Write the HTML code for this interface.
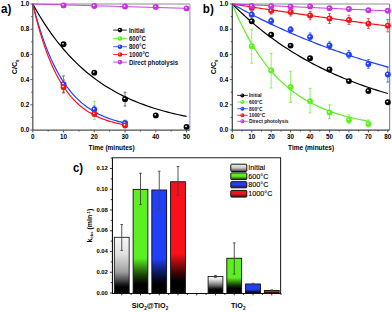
<!DOCTYPE html>
<html><head><meta charset="utf-8"><style>
html,body{margin:0;padding:0;background:#fff;width:392px;height:312px;overflow:hidden}
svg{display:block}
text{font-family:"Liberation Sans",sans-serif}
</style></head><body>
<svg width="392" height="312" viewBox="0 0 392 312" font-family="Liberation Sans, sans-serif">
<rect width="392" height="312" fill="#fff"/>
<path d="M32.8 4.0H189.9" stroke="#8c8c8c" stroke-width="1.2" fill="none"/><path d="M189.9 4.0V130.0" stroke="#a4a6c0" stroke-width="1.2" fill="none"/>
<path d="M30.4 130H32.8" stroke="#444" stroke-width="0.9"/>
<text x="29.3" y="132.2" font-size="6.3" font-weight="bold" text-anchor="end" fill="#000" >0.0</text>
<path d="M31.2 117.4H32.8" stroke="#444" stroke-width="0.9"/>
<path d="M30.4 104.8H32.8" stroke="#444" stroke-width="0.9"/>
<text x="29.3" y="107" font-size="6.3" font-weight="bold" text-anchor="end" fill="#000" >0.2</text>
<path d="M31.2 92.2H32.8" stroke="#444" stroke-width="0.9"/>
<path d="M30.4 79.6H32.8" stroke="#444" stroke-width="0.9"/>
<text x="29.3" y="81.8" font-size="6.3" font-weight="bold" text-anchor="end" fill="#000" >0.4</text>
<path d="M31.2 67H32.8" stroke="#444" stroke-width="0.9"/>
<path d="M30.4 54.4H32.8" stroke="#444" stroke-width="0.9"/>
<text x="29.3" y="56.6" font-size="6.3" font-weight="bold" text-anchor="end" fill="#000" >0.6</text>
<path d="M31.2 41.8H32.8" stroke="#444" stroke-width="0.9"/>
<path d="M30.4 29.2H32.8" stroke="#444" stroke-width="0.9"/>
<text x="29.3" y="31.4" font-size="6.3" font-weight="bold" text-anchor="end" fill="#000" >0.8</text>
<path d="M31.2 16.6H32.8" stroke="#444" stroke-width="0.9"/>
<path d="M30.4 4H32.8" stroke="#444" stroke-width="0.9"/>
<text x="29.3" y="6.2" font-size="6.3" font-weight="bold" text-anchor="end" fill="#000" >1.0</text>
<path d="M32.8 130.0V132.4" stroke="#444" stroke-width="0.9"/>
<text x="32.8" y="139.2" font-size="6.3" font-weight="bold" text-anchor="middle" fill="#000" >0</text>
<path d="M48.17 130.0V131.6" stroke="#444" stroke-width="0.9"/>
<path d="M63.55 130.0V132.4" stroke="#444" stroke-width="0.9"/>
<text x="63.55" y="139.2" font-size="6.3" font-weight="bold" text-anchor="middle" fill="#000" >10</text>
<path d="M78.92 130.0V131.6" stroke="#444" stroke-width="0.9"/>
<path d="M94.3 130.0V132.4" stroke="#444" stroke-width="0.9"/>
<text x="94.3" y="139.2" font-size="6.3" font-weight="bold" text-anchor="middle" fill="#000" >20</text>
<path d="M109.67 130.0V131.6" stroke="#444" stroke-width="0.9"/>
<path d="M125.05 130.0V132.4" stroke="#444" stroke-width="0.9"/>
<text x="125.05" y="139.2" font-size="6.3" font-weight="bold" text-anchor="middle" fill="#000" >30</text>
<path d="M140.43 130.0V131.6" stroke="#444" stroke-width="0.9"/>
<path d="M155.8 130.0V132.4" stroke="#444" stroke-width="0.9"/>
<text x="155.8" y="139.2" font-size="6.3" font-weight="bold" text-anchor="middle" fill="#000" >40</text>
<path d="M171.18 130.0V131.6" stroke="#444" stroke-width="0.9"/>
<path d="M186.55 130.0V132.4" stroke="#444" stroke-width="0.9"/>
<text x="186.55" y="139.2" font-size="6.3" font-weight="bold" text-anchor="middle" fill="#000" >50</text>
<text x="111.6" y="149.6" font-size="6.5" font-weight="bold" text-anchor="middle" fill="#000" >Time (minutes)</text>
<text transform="translate(17.0,74.2) rotate(-90)" font-size="7.1" font-weight="bold">C/C<tspan font-size="4.2" dy="1.8">0</tspan></text>
<text transform="translate(1.0,12.6) scale(0.9,1)" font-size="12.9" font-weight="bold">a)</text>
<polyline points="32.8,4 35.36,8.59 37.92,13.01 40.49,17.27 43.05,21.37 45.61,25.32 48.17,29.14 50.74,32.81 53.3,36.35 55.86,39.75 58.42,43.04 60.99,46.21 63.55,49.26 66.11,52.2 68.67,55.03 71.24,57.76 73.8,60.39 76.36,62.92 78.92,65.36 81.49,67.72 84.05,69.98 86.61,72.17 89.17,74.27 91.74,76.3 94.3,78.26 96.86,80.14 99.43,81.96 101.99,83.71 104.55,85.39 107.11,87.01 109.67,88.58 112.24,90.09 114.8,91.54 117.36,92.94 119.92,94.29 122.49,95.59 125.05,96.84 127.61,98.05 130.18,99.21 132.74,100.33 135.3,101.41 137.86,102.45 140.43,103.46 142.99,104.42 145.55,105.35 148.11,106.25 150.68,107.12 153.24,107.95 155.8,108.75 158.36,109.53 160.93,110.27 163.49,110.99 166.05,111.68 168.61,112.35 171.18,112.99 173.74,113.61 176.3,114.21 178.86,114.78 181.43,115.34 183.99,115.87 186.55,116.38" fill="none" stroke="#000" stroke-width="1.2"/>
<polyline points="32.8,4 34.34,9.94 35.88,15.59 37.41,20.98 38.95,26.12 40.49,31.01 42.02,35.67 43.56,40.11 45.1,44.35 46.64,48.38 48.17,52.23 49.71,55.89 51.25,59.38 52.79,62.71 54.33,65.88 55.86,68.9 57.4,71.78 58.94,74.52 60.47,77.13 62.01,79.62 63.55,82 65.09,84.26 66.62,86.41 68.16,88.47 69.7,90.42 71.24,92.29 72.78,94.06 74.31,95.76 75.85,97.37 77.39,98.91 78.92,100.37 80.46,101.77 82,103.1 83.54,104.36 85.08,105.57 86.61,106.72 88.15,107.82 89.69,108.86 91.22,109.86 92.76,110.81 94.3,111.71 95.84,112.57 97.38,113.39 98.91,114.18 100.45,114.92 101.99,115.63 103.53,116.31 105.06,116.95 106.6,117.57 108.14,118.15 109.67,118.71 111.21,119.24 112.75,119.75 114.29,120.23 115.83,120.69 117.36,121.13 118.9,121.55 120.44,121.95 121.98,122.33 123.51,122.69 125.05,123.03" fill="none" stroke="#2040f8" stroke-width="1.2"/>
<polyline points="32.8,4 34.34,10.56 35.88,16.79 37.41,22.68 38.95,28.27 40.49,33.57 42.02,38.6 43.56,43.36 45.1,47.87 46.64,52.15 48.17,56.21 49.71,60.05 51.25,63.69 52.79,67.15 54.33,70.42 55.86,73.53 57.4,76.47 58.94,79.26 60.47,81.9 62.01,84.41 63.55,86.78 65.09,89.03 66.62,91.17 68.16,93.19 69.7,95.11 71.24,96.92 72.78,98.65 74.31,100.28 75.85,101.83 77.39,103.3 78.92,104.69 80.46,106.01 82,107.26 83.54,108.44 85.08,109.56 86.61,110.63 88.15,111.64 89.69,112.59 91.22,113.5 92.76,114.36 94.3,115.18 95.84,115.95 97.38,116.68 98.91,117.37 100.45,118.03 101.99,118.65 103.53,119.25 105.06,119.81 106.6,120.34 108.14,120.84 109.67,121.32 111.21,121.77 112.75,122.2 114.29,122.61 115.83,122.99 117.36,123.36 118.9,123.7 120.44,124.03 121.98,124.34 123.51,124.64 125.05,124.92" fill="none" stroke="#fa1018" stroke-width="1.2"/>
<polyline points="32.8,4 35.36,4.07 37.92,4.15 40.49,4.22 43.05,4.29 45.61,4.37 48.17,4.44 50.74,4.51 53.3,4.59 55.86,4.66 58.42,4.73 60.99,4.81 63.55,4.88 66.11,4.95 68.67,5.02 71.24,5.1 73.8,5.17 76.36,5.24 78.92,5.32 81.49,5.39 84.05,5.46 86.61,5.53 89.17,5.61 91.74,5.68 94.3,5.75 96.86,5.82 99.43,5.9 101.99,5.97 104.55,6.04 107.11,6.11 109.67,6.19 112.24,6.26 114.8,6.33 117.36,6.4 119.92,6.47 122.49,6.55 125.05,6.62 127.61,6.69 130.18,6.76 132.74,6.83 135.3,6.91 137.86,6.98 140.43,7.05 142.99,7.12 145.55,7.19 148.11,7.26 150.68,7.34 153.24,7.41 155.8,7.48 158.36,7.55 160.93,7.62 163.49,7.69 166.05,7.76 168.61,7.84 171.18,7.91 173.74,7.98 176.3,8.05 178.86,8.12 181.43,8.19 183.99,8.26 186.55,8.33" fill="none" stroke="#c830e0" stroke-width="0.95"/>
<path d="M125.05 92.2V106.06M123.65 92.2H126.45M123.65 106.06H126.45" stroke="#333" stroke-width="0.7" fill="none"/>
<path d="M63.55 75.82V92.2M62.15 75.82H64.95M62.15 92.2H64.95" stroke="#2040f8" stroke-width="0.7" fill="none"/>
<path d="M63.55 79.6V92.2M62.15 79.6H64.95M62.15 92.2H64.95" stroke="#5cf020" stroke-width="0.7" fill="none"/>
<path d="M63.55 80.23V93.08M62.15 80.23H64.95M62.15 93.08H64.95" stroke="#fa1018" stroke-width="0.7" fill="none"/>
<path d="M94.3 101.27V119.54M92.9 101.27H95.7M92.9 119.54H95.7" stroke="#5cf020" stroke-width="0.7" fill="none"/>
<path d="M94.3 106.06V113.62M92.9 106.06H95.7M92.9 113.62H95.7" stroke="#2040f8" stroke-width="0.7" fill="none"/>
<path d="M125.05 119.92V126.22M123.65 119.92H126.45M123.65 126.22H126.45" stroke="#5cf020" stroke-width="0.7" fill="none"/>
<circle cx="63.55" cy="44.32" r="2.95" fill="#000"/>
<ellipse cx="63" cy="43.72" rx="0.94" ry="0.80" fill="#f0f4f4"/>
<circle cx="94.3" cy="72.67" r="2.95" fill="#000"/>
<ellipse cx="93.75" cy="72.07" rx="0.94" ry="0.80" fill="#f0f4f4"/>
<circle cx="125.05" cy="99.13" r="2.95" fill="#000"/>
<ellipse cx="124.5" cy="98.53" rx="0.94" ry="0.80" fill="#f0f4f4"/>
<circle cx="155.8" cy="115.38" r="2.95" fill="#000"/>
<ellipse cx="155.25" cy="114.78" rx="0.94" ry="0.80" fill="#f0f4f4"/>
<circle cx="186.55" cy="126.98" r="2.95" fill="#000"/>
<ellipse cx="186" cy="126.38" rx="0.94" ry="0.80" fill="#f0f4f4"/>
<circle cx="63.55" cy="84.26" r="2.95" fill="#2040f8"/>
<ellipse cx="63" cy="83.66" rx="0.94" ry="0.80" fill="#f0f4f4"/>
<circle cx="94.3" cy="109.46" r="2.95" fill="#2040f8"/>
<ellipse cx="93.75" cy="108.86" rx="0.94" ry="0.80" fill="#f0f4f4"/>
<circle cx="125.05" cy="123.07" r="2.95" fill="#2040f8"/>
<ellipse cx="124.5" cy="122.47" rx="0.94" ry="0.80" fill="#f0f4f4"/>
<circle cx="63.55" cy="87.16" r="2.95" fill="#fa1018"/>
<ellipse cx="63" cy="86.56" rx="0.94" ry="0.80" fill="#f0f4f4"/>
<circle cx="94.3" cy="114" r="2.95" fill="#fa1018"/>
<ellipse cx="93.75" cy="113.4" rx="0.94" ry="0.80" fill="#f0f4f4"/>
<circle cx="125.05" cy="125.46" r="2.95" fill="#fa1018"/>
<ellipse cx="124.5" cy="124.86" rx="0.94" ry="0.80" fill="#f0f4f4"/>
<circle cx="63.55" cy="5.39" r="2.95" fill="#c830e0"/>
<ellipse cx="63" cy="4.79" rx="0.94" ry="0.80" fill="#f0f4f4"/>
<circle cx="94.3" cy="6.02" r="2.95" fill="#c830e0"/>
<ellipse cx="93.75" cy="5.42" rx="0.94" ry="0.80" fill="#f0f4f4"/>
<circle cx="125.05" cy="6.52" r="2.95" fill="#c830e0"/>
<ellipse cx="124.5" cy="5.92" rx="0.94" ry="0.80" fill="#f0f4f4"/>
<circle cx="155.8" cy="6.9" r="2.95" fill="#c830e0"/>
<ellipse cx="155.25" cy="6.3" rx="0.94" ry="0.80" fill="#f0f4f4"/>
<circle cx="186.55" cy="8.41" r="2.95" fill="#c830e0"/>
<ellipse cx="186" cy="7.81" rx="0.94" ry="0.80" fill="#f0f4f4"/>
<path d="M32.8 3.5V130.0H189.9" stroke="#505454" stroke-width="1.25" fill="none"/>
<path d="M113.2 30.1H126.9" stroke="#000" stroke-width="0.85"/>
<circle cx="120" cy="30.1" r="2.3" fill="#000"/>
<ellipse cx="119.45" cy="29.5" rx="0.74" ry="0.62" fill="#f0f4f4"/>
<text transform="translate(128.9,32.5) scale(0.92,1)" font-size="6.6" font-weight="bold" fill="#10102a">Initial</text>
<path d="M113.2 38.5H126.9" stroke="#5cf020" stroke-width="0.85"/>
<circle cx="120" cy="38.5" r="2.3" fill="#5cf020"/>
<ellipse cx="119.45" cy="37.9" rx="0.74" ry="0.62" fill="#f0f4f4"/>
<text transform="translate(128.9,40.9) scale(0.92,1)" font-size="6.6" font-weight="bold" fill="#10102a">600°C</text>
<path d="M113.2 46.7H126.9" stroke="#2040f8" stroke-width="0.85"/>
<circle cx="120" cy="46.7" r="2.3" fill="#2040f8"/>
<ellipse cx="119.45" cy="46.1" rx="0.74" ry="0.62" fill="#f0f4f4"/>
<text transform="translate(128.9,49.1) scale(0.92,1)" font-size="6.6" font-weight="bold" fill="#10102a">800°C</text>
<path d="M113.2 54.5H126.9" stroke="#fa1018" stroke-width="0.85"/>
<circle cx="120" cy="54.5" r="2.3" fill="#fa1018"/>
<ellipse cx="119.45" cy="53.9" rx="0.74" ry="0.62" fill="#f0f4f4"/>
<text transform="translate(128.9,56.9) scale(0.92,1)" font-size="6.6" font-weight="bold" fill="#10102a">1000°C</text>
<path d="M113.2 62.1H126.9" stroke="#c830e0" stroke-width="0.85"/>
<circle cx="120" cy="62.1" r="2.3" fill="#c830e0"/>
<ellipse cx="119.45" cy="61.5" rx="0.74" ry="0.62" fill="#f0f4f4"/>
<text transform="translate(128.9,64.5) scale(0.92,1)" font-size="6.6" font-weight="bold" fill="#10102a">Direct photolysis</text>
<path d="M232.3 4.0H389.6" stroke="#8c8c8c" stroke-width="1.2" fill="none"/><path d="M389.6 4.0V130.0" stroke="#8a8c9c" stroke-width="1.2" fill="none"/>
<path d="M229.9 130H232.3" stroke="#444" stroke-width="0.9"/>
<text x="228.2" y="132.1" font-size="6.3" font-weight="bold" text-anchor="end" fill="#000" >0.0</text>
<path d="M230.7 117.4H232.3" stroke="#444" stroke-width="0.9"/>
<path d="M229.9 104.8H232.3" stroke="#444" stroke-width="0.9"/>
<text x="228.2" y="106.9" font-size="6.3" font-weight="bold" text-anchor="end" fill="#000" >0.2</text>
<path d="M230.7 92.2H232.3" stroke="#444" stroke-width="0.9"/>
<path d="M229.9 79.6H232.3" stroke="#444" stroke-width="0.9"/>
<text x="228.2" y="81.7" font-size="6.3" font-weight="bold" text-anchor="end" fill="#000" >0.4</text>
<path d="M230.7 67H232.3" stroke="#444" stroke-width="0.9"/>
<path d="M229.9 54.4H232.3" stroke="#444" stroke-width="0.9"/>
<text x="228.2" y="56.5" font-size="6.3" font-weight="bold" text-anchor="end" fill="#000" >0.6</text>
<path d="M230.7 41.8H232.3" stroke="#444" stroke-width="0.9"/>
<path d="M229.9 29.2H232.3" stroke="#444" stroke-width="0.9"/>
<text x="228.2" y="31.3" font-size="6.3" font-weight="bold" text-anchor="end" fill="#000" >0.8</text>
<path d="M230.7 16.6H232.3" stroke="#444" stroke-width="0.9"/>
<path d="M229.9 4H232.3" stroke="#444" stroke-width="0.9"/>
<text x="228.2" y="6.1" font-size="6.3" font-weight="bold" text-anchor="end" fill="#000" >1.0</text>
<path d="M232.3 130.0V132.4" stroke="#444" stroke-width="0.9"/>
<text x="232.3" y="139.2" font-size="6.3" font-weight="bold" text-anchor="middle" fill="#000" >0</text>
<path d="M242.02 130.0V131.6" stroke="#444" stroke-width="0.9"/>
<path d="M251.74 130.0V132.4" stroke="#444" stroke-width="0.9"/>
<text x="251.74" y="139.2" font-size="6.3" font-weight="bold" text-anchor="middle" fill="#000" >10</text>
<path d="M261.46 130.0V131.6" stroke="#444" stroke-width="0.9"/>
<path d="M271.18 130.0V132.4" stroke="#444" stroke-width="0.9"/>
<text x="271.18" y="139.2" font-size="6.3" font-weight="bold" text-anchor="middle" fill="#000" >20</text>
<path d="M280.9 130.0V131.6" stroke="#444" stroke-width="0.9"/>
<path d="M290.62 130.0V132.4" stroke="#444" stroke-width="0.9"/>
<text x="290.62" y="139.2" font-size="6.3" font-weight="bold" text-anchor="middle" fill="#000" >30</text>
<path d="M300.34 130.0V131.6" stroke="#444" stroke-width="0.9"/>
<path d="M310.06 130.0V132.4" stroke="#444" stroke-width="0.9"/>
<text x="310.06" y="139.2" font-size="6.3" font-weight="bold" text-anchor="middle" fill="#000" >40</text>
<path d="M319.78 130.0V131.6" stroke="#444" stroke-width="0.9"/>
<path d="M329.5 130.0V132.4" stroke="#444" stroke-width="0.9"/>
<text x="329.5" y="139.2" font-size="6.3" font-weight="bold" text-anchor="middle" fill="#000" >50</text>
<path d="M339.22 130.0V131.6" stroke="#444" stroke-width="0.9"/>
<path d="M348.94 130.0V132.4" stroke="#444" stroke-width="0.9"/>
<text x="348.94" y="139.2" font-size="6.3" font-weight="bold" text-anchor="middle" fill="#000" >60</text>
<path d="M358.66 130.0V131.6" stroke="#444" stroke-width="0.9"/>
<path d="M368.38 130.0V132.4" stroke="#444" stroke-width="0.9"/>
<text x="368.38" y="139.2" font-size="6.3" font-weight="bold" text-anchor="middle" fill="#000" >70</text>
<path d="M378.1 130.0V131.6" stroke="#444" stroke-width="0.9"/>
<path d="M387.82 130.0V132.4" stroke="#444" stroke-width="0.9"/>
<text x="387.82" y="139.2" font-size="6.3" font-weight="bold" text-anchor="middle" fill="#000" >80</text>
<text x="311.1" y="149.6" font-size="6.5" font-weight="bold" text-anchor="middle" fill="#000" >Time (minutes)</text>
<text transform="translate(216.3,74.2) rotate(-90)" font-size="7.1" font-weight="bold">C/C<tspan font-size="4.2" dy="1.8">0</tspan></text>
<text transform="translate(202.8,12.6) scale(0.9,1)" font-size="12.9" font-weight="bold">b)</text>
<polyline points="232.3,4 234.89,6.58 237.48,9.1 240.08,11.57 242.67,14 245.26,16.37 247.85,18.69 250.44,20.97 253.04,23.2 255.63,25.39 258.22,27.53 260.81,29.62 263.4,31.67 266,33.69 268.59,35.66 271.18,37.59 273.77,39.48 276.36,41.33 278.96,43.14 281.55,44.92 284.14,46.66 286.73,48.36 289.32,50.03 291.92,51.67 294.51,53.27 297.1,54.84 299.69,56.38 302.28,57.88 304.88,59.36 307.47,60.8 310.06,62.22 312.65,63.61 315.24,64.96 317.84,66.29 320.43,67.6 323.02,68.87 325.61,70.12 328.2,71.35 330.8,72.55 333.39,73.72 335.98,74.87 338.57,76 341.16,77.11 343.76,78.19 346.35,79.25 348.94,80.29 351.53,81.3 354.12,82.3 356.72,83.27 359.31,84.23 361.9,85.17 364.49,86.08 367.08,86.98 369.68,87.86 372.27,88.72 374.86,89.57 377.45,90.4 380.04,91.21 382.64,92 385.23,92.78 387.82,93.54" fill="none" stroke="#000" stroke-width="1.2"/>
<polyline points="232.3,4 234.57,9.46 236.84,14.69 239.1,19.69 241.37,24.47 243.64,29.05 245.91,33.43 248.18,37.62 250.44,41.62 252.71,45.46 254.98,49.12 257.25,52.63 259.52,55.98 261.78,59.19 264.05,62.26 266.32,65.2 268.59,68.01 270.86,70.7 273.12,73.27 275.39,75.73 277.66,78.08 279.93,80.34 282.2,82.49 284.46,84.55 286.73,86.52 289,88.41 291.27,90.21 293.54,91.94 295.8,93.59 298.07,95.17 300.34,96.68 302.61,98.12 304.88,99.5 307.14,100.83 309.41,102.09 311.68,103.3 313.95,104.46 316.22,105.57 318.48,106.63 320.75,107.64 323.02,108.61 325.29,109.54 327.56,110.42 329.82,111.27 332.09,112.09 334.36,112.86 336.63,113.61 338.9,114.32 341.16,115 343.43,115.65 345.7,116.27 347.97,116.86 350.24,117.43 352.5,117.98 354.77,118.5 357.04,119 359.31,119.48 361.58,119.93 363.84,120.37 366.11,120.79 368.38,121.19" fill="none" stroke="#5cf020" stroke-width="1.2"/>
<polyline points="232.3,4 234.89,5.45 237.48,6.89 240.08,8.31 242.67,9.71 245.26,11.1 247.85,12.47 250.44,13.83 253.04,15.17 255.63,16.49 258.22,17.8 260.81,19.09 263.4,20.37 266,21.64 268.59,22.89 271.18,24.12 273.77,25.34 276.36,26.55 278.96,27.74 281.55,28.92 284.14,30.09 286.73,31.24 289.32,32.38 291.92,33.51 294.51,34.62 297.1,35.72 299.69,36.81 302.28,37.88 304.88,38.94 307.47,39.99 310.06,41.03 312.65,42.06 315.24,43.07 317.84,44.07 320.43,45.07 323.02,46.04 325.61,47.01 328.2,47.97 330.8,48.92 333.39,49.85 335.98,50.78 338.57,51.69 341.16,52.59 343.76,53.49 346.35,54.37 348.94,55.24 351.53,56.1 354.12,56.95 356.72,57.8 359.31,58.63 361.9,59.45 364.49,60.27 367.08,61.07 369.68,61.87 372.27,62.65 374.86,63.43 377.45,64.2 380.04,64.95 382.64,65.7 385.23,66.45 387.82,67.18" fill="none" stroke="#2040f8" stroke-width="1.2"/>
<polyline points="232.3,4 234.89,4.4 237.48,4.8 240.08,5.2 242.67,5.6 245.26,6 247.85,6.4 250.44,6.79 253.04,7.18 255.63,7.58 258.22,7.97 260.81,8.36 263.4,8.75 266,9.13 268.59,9.52 271.18,9.91 273.77,10.29 276.36,10.67 278.96,11.05 281.55,11.43 284.14,11.81 286.73,12.19 289.32,12.57 291.92,12.94 294.51,13.31 297.1,13.69 299.69,14.06 302.28,14.43 304.88,14.8 307.47,15.17 310.06,15.53 312.65,15.9 315.24,16.26 317.84,16.63 320.43,16.99 323.02,17.35 325.61,17.71 328.2,18.07 330.8,18.43 333.39,18.78 335.98,19.14 338.57,19.49 341.16,19.85 343.76,20.2 346.35,20.55 348.94,20.9 351.53,21.25 354.12,21.59 356.72,21.94 359.31,22.29 361.9,22.63 364.49,22.97 367.08,23.31 369.68,23.66 372.27,24 374.86,24.33 377.45,24.67 380.04,25.01 382.64,25.34 385.23,25.68 387.82,26.01" fill="none" stroke="#fa1018" stroke-width="1.2"/>
<polyline points="232.3,4 234.89,4.12 237.48,4.23 240.08,4.35 242.67,4.47 245.26,4.59 247.85,4.7 250.44,4.82 253.04,4.94 255.63,5.05 258.22,5.17 260.81,5.29 263.4,5.4 266,5.52 268.59,5.64 271.18,5.75 273.77,5.87 276.36,5.98 278.96,6.1 281.55,6.21 284.14,6.33 286.73,6.45 289.32,6.56 291.92,6.68 294.51,6.79 297.1,6.91 299.69,7.02 302.28,7.14 304.88,7.25 307.47,7.36 310.06,7.48 312.65,7.59 315.24,7.71 317.84,7.82 320.43,7.94 323.02,8.05 325.61,8.16 328.2,8.28 330.8,8.39 333.39,8.5 335.98,8.62 338.57,8.73 341.16,8.84 343.76,8.96 346.35,9.07 348.94,9.18 351.53,9.3 354.12,9.41 356.72,9.52 359.31,9.63 361.9,9.74 364.49,9.86 367.08,9.97 369.68,10.08 372.27,10.19 374.86,10.3 377.45,10.42 380.04,10.53 382.64,10.64 385.23,10.75 387.82,10.86" fill="none" stroke="#c830e0" stroke-width="1.0"/>
<path d="M251.74 29.2V63.22M250.34 29.2H253.14M250.34 63.22H253.14" stroke="#5cf020" stroke-width="0.7" fill="none"/>
<path d="M271.18 53.27V88.04M269.78 53.27H272.58M269.78 88.04H272.58" stroke="#5cf020" stroke-width="0.7" fill="none"/>
<path d="M290.62 71.28V102.53M289.22 71.28H292.02M289.22 102.53H292.02" stroke="#5cf020" stroke-width="0.7" fill="none"/>
<path d="M310.06 88.29V112.99M308.66 88.29H311.46M308.66 112.99H311.46" stroke="#5cf020" stroke-width="0.7" fill="none"/>
<path d="M329.5 104.8V118.66M328.1 104.8H330.9M328.1 118.66H330.9" stroke="#5cf020" stroke-width="0.7" fill="none"/>
<path d="M348.94 114.88V123.7M347.54 114.88H350.34M347.54 123.7H350.34" stroke="#5cf020" stroke-width="0.7" fill="none"/>
<path d="M368.38 119.92V126.85M366.98 119.92H369.78M366.98 126.85H369.78" stroke="#5cf020" stroke-width="0.7" fill="none"/>
<path d="M251.74 11.56V16.6M250.34 11.56H253.14M250.34 16.6H253.14" stroke="#2040f8" stroke-width="0.7" fill="none"/>
<path d="M271.18 17.86V24.16M269.78 17.86H272.58M269.78 24.16H272.58" stroke="#2040f8" stroke-width="0.7" fill="none"/>
<path d="M290.62 26.68V32.98M289.22 26.68H292.02M289.22 32.98H292.02" stroke="#2040f8" stroke-width="0.7" fill="none"/>
<path d="M310.06 32.98V40.54M308.66 32.98H311.46M308.66 40.54H311.46" stroke="#2040f8" stroke-width="0.7" fill="none"/>
<path d="M329.5 41.8V49.36M328.1 41.8H330.9M328.1 49.36H330.9" stroke="#2040f8" stroke-width="0.7" fill="none"/>
<path d="M348.94 50.62V58.18M347.54 50.62H350.34M347.54 58.18H350.34" stroke="#2040f8" stroke-width="0.7" fill="none"/>
<path d="M368.38 59.44V68.26M366.98 59.44H369.78M366.98 68.26H369.78" stroke="#2040f8" stroke-width="0.7" fill="none"/>
<path d="M387.82 67V82.12M386.42 67H389.22M386.42 82.12H389.22" stroke="#2040f8" stroke-width="0.7" fill="none"/>
<path d="M251.74 5.26V9.67M250.34 5.26H253.14M250.34 9.67H253.14" stroke="#fa1018" stroke-width="0.7" fill="none"/>
<path d="M271.18 7.15V14.08M269.78 7.15H272.58M269.78 14.08H272.58" stroke="#fa1018" stroke-width="0.7" fill="none"/>
<path d="M290.62 8.41V15.97M289.22 8.41H292.02M289.22 15.97H292.02" stroke="#fa1018" stroke-width="0.7" fill="none"/>
<path d="M310.06 11.56V19.75M308.66 11.56H311.46M308.66 19.75H311.46" stroke="#fa1018" stroke-width="0.7" fill="none"/>
<path d="M329.5 13.45V23.53M328.1 13.45H330.9M328.1 23.53H330.9" stroke="#fa1018" stroke-width="0.7" fill="none"/>
<path d="M348.94 15.21V24.54M347.54 15.21H350.34M347.54 24.54H350.34" stroke="#fa1018" stroke-width="0.7" fill="none"/>
<path d="M368.38 18.62V28.44M366.98 18.62H369.78M366.98 28.44H369.78" stroke="#fa1018" stroke-width="0.7" fill="none"/>
<path d="M387.82 19.62V31.85M386.42 19.62H389.22M386.42 31.85H389.22" stroke="#fa1018" stroke-width="0.7" fill="none"/>
<circle cx="251.74" cy="21.26" r="2.95" fill="#000"/>
<ellipse cx="251.19" cy="20.66" rx="0.94" ry="0.80" fill="#f0f4f4"/>
<circle cx="271.18" cy="34.74" r="2.95" fill="#000"/>
<ellipse cx="270.63" cy="34.14" rx="0.94" ry="0.80" fill="#f0f4f4"/>
<circle cx="290.62" cy="45.58" r="2.95" fill="#000"/>
<ellipse cx="290.07" cy="44.98" rx="0.94" ry="0.80" fill="#f0f4f4"/>
<circle cx="310.06" cy="58.31" r="2.95" fill="#000"/>
<ellipse cx="309.51" cy="57.71" rx="0.94" ry="0.80" fill="#f0f4f4"/>
<circle cx="329.5" cy="69.52" r="2.95" fill="#000"/>
<ellipse cx="328.95" cy="68.92" rx="0.94" ry="0.80" fill="#f0f4f4"/>
<circle cx="348.94" cy="81.11" r="2.95" fill="#000"/>
<ellipse cx="348.39" cy="80.51" rx="0.94" ry="0.80" fill="#f0f4f4"/>
<circle cx="368.38" cy="90.94" r="2.95" fill="#000"/>
<ellipse cx="367.83" cy="90.34" rx="0.94" ry="0.80" fill="#f0f4f4"/>
<circle cx="387.82" cy="102.28" r="2.95" fill="#000"/>
<ellipse cx="387.27" cy="101.68" rx="0.94" ry="0.80" fill="#f0f4f4"/>
<circle cx="251.74" cy="46.21" r="2.95" fill="#5cf020"/>
<ellipse cx="251.19" cy="45.61" rx="0.94" ry="0.80" fill="#f0f4f4"/>
<circle cx="271.18" cy="70.53" r="2.95" fill="#5cf020"/>
<ellipse cx="270.63" cy="69.93" rx="0.94" ry="0.80" fill="#f0f4f4"/>
<circle cx="290.62" cy="87.03" r="2.95" fill="#5cf020"/>
<ellipse cx="290.07" cy="86.43" rx="0.94" ry="0.80" fill="#f0f4f4"/>
<circle cx="310.06" cy="101.27" r="2.95" fill="#5cf020"/>
<ellipse cx="309.51" cy="100.67" rx="0.94" ry="0.80" fill="#f0f4f4"/>
<circle cx="329.5" cy="112.49" r="2.95" fill="#5cf020"/>
<ellipse cx="328.95" cy="111.89" rx="0.94" ry="0.80" fill="#f0f4f4"/>
<circle cx="348.94" cy="120.05" r="2.95" fill="#5cf020"/>
<ellipse cx="348.39" cy="119.45" rx="0.94" ry="0.80" fill="#f0f4f4"/>
<circle cx="368.38" cy="123.95" r="2.95" fill="#5cf020"/>
<ellipse cx="367.83" cy="123.35" rx="0.94" ry="0.80" fill="#f0f4f4"/>
<circle cx="251.74" cy="14.71" r="2.95" fill="#2040f8"/>
<ellipse cx="251.19" cy="14.11" rx="0.94" ry="0.80" fill="#f0f4f4"/>
<circle cx="271.18" cy="21.01" r="2.95" fill="#2040f8"/>
<ellipse cx="270.63" cy="20.41" rx="0.94" ry="0.80" fill="#f0f4f4"/>
<circle cx="290.62" cy="29.58" r="2.95" fill="#2040f8"/>
<ellipse cx="290.07" cy="28.98" rx="0.94" ry="0.80" fill="#f0f4f4"/>
<circle cx="310.06" cy="37.01" r="2.95" fill="#2040f8"/>
<ellipse cx="309.51" cy="36.41" rx="0.94" ry="0.80" fill="#f0f4f4"/>
<circle cx="329.5" cy="45.45" r="2.95" fill="#2040f8"/>
<ellipse cx="328.95" cy="44.85" rx="0.94" ry="0.80" fill="#f0f4f4"/>
<circle cx="348.94" cy="54.65" r="2.95" fill="#2040f8"/>
<ellipse cx="348.39" cy="54.05" rx="0.94" ry="0.80" fill="#f0f4f4"/>
<circle cx="368.38" cy="64.1" r="2.95" fill="#2040f8"/>
<ellipse cx="367.83" cy="63.5" rx="0.94" ry="0.80" fill="#f0f4f4"/>
<circle cx="387.82" cy="74.43" r="2.95" fill="#2040f8"/>
<ellipse cx="387.27" cy="73.83" rx="0.94" ry="0.80" fill="#f0f4f4"/>
<circle cx="251.74" cy="7.91" r="2.95" fill="#fa1018"/>
<ellipse cx="251.19" cy="7.31" rx="0.94" ry="0.80" fill="#f0f4f4"/>
<circle cx="271.18" cy="10.8" r="2.95" fill="#fa1018"/>
<ellipse cx="270.63" cy="10.2" rx="0.94" ry="0.80" fill="#f0f4f4"/>
<circle cx="290.62" cy="11.94" r="2.95" fill="#fa1018"/>
<ellipse cx="290.07" cy="11.34" rx="0.94" ry="0.80" fill="#f0f4f4"/>
<circle cx="310.06" cy="15.47" r="2.95" fill="#fa1018"/>
<ellipse cx="309.51" cy="14.87" rx="0.94" ry="0.80" fill="#f0f4f4"/>
<circle cx="329.5" cy="18.49" r="2.95" fill="#fa1018"/>
<ellipse cx="328.95" cy="17.89" rx="0.94" ry="0.80" fill="#f0f4f4"/>
<circle cx="348.94" cy="20" r="2.95" fill="#fa1018"/>
<ellipse cx="348.39" cy="19.4" rx="0.94" ry="0.80" fill="#f0f4f4"/>
<circle cx="368.38" cy="23.66" r="2.95" fill="#fa1018"/>
<ellipse cx="367.83" cy="23.06" rx="0.94" ry="0.80" fill="#f0f4f4"/>
<circle cx="387.82" cy="25.67" r="2.95" fill="#fa1018"/>
<ellipse cx="387.27" cy="25.07" rx="0.94" ry="0.80" fill="#f0f4f4"/>
<circle cx="251.74" cy="6.02" r="2.95" fill="#c830e0"/>
<ellipse cx="251.19" cy="5.42" rx="0.94" ry="0.80" fill="#f0f4f4"/>
<circle cx="271.18" cy="6.14" r="2.95" fill="#c830e0"/>
<ellipse cx="270.63" cy="5.54" rx="0.94" ry="0.80" fill="#f0f4f4"/>
<circle cx="290.62" cy="6.65" r="2.95" fill="#c830e0"/>
<ellipse cx="290.07" cy="6.05" rx="0.94" ry="0.80" fill="#f0f4f4"/>
<circle cx="310.06" cy="6.39" r="2.95" fill="#c830e0"/>
<ellipse cx="309.51" cy="5.79" rx="0.94" ry="0.80" fill="#f0f4f4"/>
<circle cx="329.5" cy="8.16" r="2.95" fill="#c830e0"/>
<ellipse cx="328.95" cy="7.56" rx="0.94" ry="0.80" fill="#f0f4f4"/>
<circle cx="348.94" cy="9.04" r="2.95" fill="#c830e0"/>
<ellipse cx="348.39" cy="8.44" rx="0.94" ry="0.80" fill="#f0f4f4"/>
<circle cx="368.38" cy="10.3" r="2.95" fill="#c830e0"/>
<ellipse cx="367.83" cy="9.7" rx="0.94" ry="0.80" fill="#f0f4f4"/>
<circle cx="387.82" cy="10.8" r="2.95" fill="#c830e0"/>
<ellipse cx="387.27" cy="10.2" rx="0.94" ry="0.80" fill="#f0f4f4"/>
<path d="M232.3 3.5V130.0H389.6" stroke="#404444" stroke-width="1.25" fill="none"/><path d="M241.3 130.4H250.4" stroke="#5070d0" stroke-width="0.8" stroke-dasharray="1.5 0.7"/>
<path d="M237.2 95.4H247.8" stroke="#000" stroke-width="0.8"/>
<circle cx="242.4" cy="95.4" r="2.0" fill="#000"/>
<ellipse cx="241.85" cy="94.8" rx="0.64" ry="0.54" fill="#f0f4f4"/>
<text transform="translate(249.0,97.3) scale(0.92,1)" font-size="5.3" font-weight="bold" fill="#10102a">Initial</text>
<path d="M237.2 102.0H247.8" stroke="#5cf020" stroke-width="0.8"/>
<circle cx="242.4" cy="102" r="2.0" fill="#5cf020"/>
<ellipse cx="241.85" cy="101.4" rx="0.64" ry="0.54" fill="#f0f4f4"/>
<text transform="translate(249.0,103.9) scale(0.92,1)" font-size="5.3" font-weight="bold" fill="#10102a">600°C</text>
<path d="M237.2 108.7H247.8" stroke="#2040f8" stroke-width="0.8"/>
<circle cx="242.4" cy="108.7" r="2.0" fill="#2040f8"/>
<ellipse cx="241.85" cy="108.1" rx="0.64" ry="0.54" fill="#f0f4f4"/>
<text transform="translate(249.0,110.6) scale(0.92,1)" font-size="5.3" font-weight="bold" fill="#10102a">800°C</text>
<path d="M237.2 115.3H247.8" stroke="#fa1018" stroke-width="0.8"/>
<circle cx="242.4" cy="115.3" r="2.0" fill="#fa1018"/>
<ellipse cx="241.85" cy="114.7" rx="0.64" ry="0.54" fill="#f0f4f4"/>
<text transform="translate(249.0,117.2) scale(0.92,1)" font-size="5.3" font-weight="bold" fill="#10102a">1000°C</text>
<path d="M237.2 121.3H247.8" stroke="#c830e0" stroke-width="0.8"/>
<circle cx="242.4" cy="121.3" r="2.0" fill="#c830e0"/>
<ellipse cx="241.85" cy="120.7" rx="0.64" ry="0.54" fill="#f0f4f4"/>
<text transform="translate(249.0,123.2) scale(0.92,1)" font-size="5.3" font-weight="bold" fill="#10102a">Direct photolysis</text>
<defs>
<linearGradient id="grw" x1="0" y1="0" x2="0" y2="1"><stop offset="0" stop-color="#f6f6f6"/><stop offset="0.42" stop-color="#d0d0d0"/><stop offset="0.59" stop-color="#a0a0a0"/><stop offset="0.69" stop-color="#606468"/><stop offset="0.79" stop-color="#202020"/><stop offset="0.86" stop-color="#000"/><stop offset="1" stop-color="#000"/></linearGradient>
<linearGradient id="lgw" x1="0" y1="0" x2="0" y2="1"><stop offset="0" stop-color="#f0f0f0"/><stop offset="0.5" stop-color="#c8c8c8"/><stop offset="1" stop-color="#404040"/></linearGradient>
<linearGradient id="grg" x1="0" y1="0" x2="0" y2="1"><stop offset="0" stop-color="#5cf020"/><stop offset="0.67" stop-color="#5cf020"/><stop offset="0.77" stop-color="#5cf020" stop-opacity="0.55"/><stop offset="0.85" stop-color="#5cf020" stop-opacity="0.22"/><stop offset="0.92" stop-color="#5cf020" stop-opacity="0"/></linearGradient>
<linearGradient id="lgg" x1="0" y1="0" x2="0" y2="1"><stop offset="0" stop-color="#5cf020"/><stop offset="0.5" stop-color="#5cf020"/><stop offset="1" stop-color="#202020"/></linearGradient>
<linearGradient id="grbl" x1="0" y1="0" x2="0" y2="1"><stop offset="0" stop-color="#2040f8"/><stop offset="0.62" stop-color="#2040f8"/><stop offset="0.74" stop-color="#2040f8" stop-opacity="0.55"/><stop offset="0.84" stop-color="#2040f8" stop-opacity="0.22"/><stop offset="0.91" stop-color="#2040f8" stop-opacity="0"/></linearGradient>
<linearGradient id="lgbl" x1="0" y1="0" x2="0" y2="1"><stop offset="0" stop-color="#2040f8"/><stop offset="0.5" stop-color="#2040f8"/><stop offset="1" stop-color="#202020"/></linearGradient>
<linearGradient id="grr" x1="0" y1="0" x2="0" y2="1"><stop offset="0" stop-color="#fa1018"/><stop offset="0.58" stop-color="#fa1018"/><stop offset="0.72" stop-color="#fa1018" stop-opacity="0.55"/><stop offset="0.83" stop-color="#fa1018" stop-opacity="0.22"/><stop offset="0.9" stop-color="#fa1018" stop-opacity="0"/></linearGradient>
<linearGradient id="lgr" x1="0" y1="0" x2="0" y2="1"><stop offset="0" stop-color="#fa1018"/><stop offset="0.5" stop-color="#fa1018"/><stop offset="1" stop-color="#202020"/></linearGradient>
</defs>
<path d="M112.45 157.8H280.6V293.35" stroke="#222" stroke-width="1.05" fill="none"/>
<path d="M131.12 293.2V295" stroke="#222" stroke-width="0.9"/>
<path d="M149.88 293.2V295" stroke="#222" stroke-width="0.9"/>
<path d="M168.62 293.2V295" stroke="#222" stroke-width="0.9"/>
<path d="M187.38 293.2V295" stroke="#222" stroke-width="0.9"/>
<path d="M206.12 293.2V295" stroke="#222" stroke-width="0.9"/>
<path d="M224.88 293.2V295" stroke="#222" stroke-width="0.9"/>
<path d="M243.62 293.2V295" stroke="#222" stroke-width="0.9"/>
<path d="M262.38 293.2V295" stroke="#222" stroke-width="0.9"/>
<path d="M281.12 293.2V295" stroke="#222" stroke-width="0.9"/>
<path d="M121.75 293.0V295.4" stroke="#222" stroke-width="0.9"/>
<defs><linearGradient id="bar0" x1="0" y1="0" x2="0" y2="1"><stop offset="0.000" stop-color="#f8f8f8" stop-opacity="1"/><stop offset="0.309" stop-color="#e0e0e0" stop-opacity="1"/><stop offset="0.619" stop-color="#a0a0a0" stop-opacity="1"/><stop offset="0.743" stop-color="#585c60" stop-opacity="1"/><stop offset="0.840" stop-color="#1c1c1c" stop-opacity="1"/><stop offset="0.895" stop-color="#000" stop-opacity="1"/><stop offset="1.000" stop-color="#000" stop-opacity="1"/></linearGradient></defs>
<rect x="114.35" y="237.29" width="14.8" height="55.71" fill="url(#bar0)" stroke="#111" stroke-width="0.85"/>
<path d="M140.5 293.0V295.4" stroke="#222" stroke-width="0.9"/>
<defs><linearGradient id="bar1" x1="0" y1="0" x2="0" y2="1"><stop offset="0.000" stop-color="#5cf020" stop-opacity="1"/><stop offset="0.663" stop-color="#5cf020" stop-opacity="1"/><stop offset="0.763" stop-color="#5cf020" stop-opacity="0.55"/><stop offset="0.844" stop-color="#5cf020" stop-opacity="0.22"/><stop offset="0.914" stop-color="#5cf020" stop-opacity="0"/><stop offset="1.000" stop-color="#5cf020" stop-opacity="0"/></linearGradient></defs>
<rect x="133.1" y="189.35" width="14.8" height="103.65" fill="#000"/>
<rect x="133.1" y="189.35" width="14.8" height="103.65" fill="url(#bar1)" stroke="#111" stroke-width="0.85"/>
<path d="M159.25 293.0V295.4" stroke="#222" stroke-width="0.9"/>
<defs><linearGradient id="bar2" x1="0" y1="0" x2="0" y2="1"><stop offset="0.000" stop-color="#2040f8" stop-opacity="1"/><stop offset="0.663" stop-color="#2040f8" stop-opacity="1"/><stop offset="0.763" stop-color="#2040f8" stop-opacity="0.55"/><stop offset="0.843" stop-color="#2040f8" stop-opacity="0.22"/><stop offset="0.914" stop-color="#2040f8" stop-opacity="0"/><stop offset="1.000" stop-color="#2040f8" stop-opacity="0"/></linearGradient></defs>
<rect x="151.85" y="189.98" width="14.8" height="103.02" fill="#000"/>
<rect x="151.85" y="189.98" width="14.8" height="103.02" fill="url(#bar2)" stroke="#111" stroke-width="0.85"/>
<path d="M178 293.0V295.4" stroke="#222" stroke-width="0.9"/>
<defs><linearGradient id="bar3" x1="0" y1="0" x2="0" y2="1"><stop offset="0.000" stop-color="#fa1018" stop-opacity="1"/><stop offset="0.648" stop-color="#fa1018" stop-opacity="1"/><stop offset="0.748" stop-color="#fa1018" stop-opacity="0.55"/><stop offset="0.828" stop-color="#fa1018" stop-opacity="0.22"/><stop offset="0.897" stop-color="#fa1018" stop-opacity="0"/><stop offset="1.000" stop-color="#fa1018" stop-opacity="0"/></linearGradient></defs>
<rect x="170.6" y="181.78" width="14.8" height="111.22" fill="#000"/>
<rect x="170.6" y="181.78" width="14.8" height="111.22" fill="url(#bar3)" stroke="#111" stroke-width="0.85"/>
<path d="M196.75 293.0V295.4" stroke="#222" stroke-width="0.9"/>
<path d="M215.5 293.0V295.4" stroke="#222" stroke-width="0.9"/>
<defs><linearGradient id="bar5" x1="0" y1="0" x2="0" y2="1"><stop offset="0.000" stop-color="#f8f8f8" stop-opacity="1"/><stop offset="0.196" stop-color="#e0e0e0" stop-opacity="1"/><stop offset="0.393" stop-color="#a0a0a0" stop-opacity="1"/><stop offset="0.574" stop-color="#585c60" stop-opacity="1"/><stop offset="0.716" stop-color="#1c1c1c" stop-opacity="1"/><stop offset="0.797" stop-color="#000" stop-opacity="1"/><stop offset="1.000" stop-color="#000" stop-opacity="1"/></linearGradient></defs>
<rect x="208.1" y="276.5" width="14.8" height="16.5" fill="url(#bar5)" stroke="#111" stroke-width="0.85"/>
<path d="M234.25 293.0V295.4" stroke="#222" stroke-width="0.9"/>
<defs><linearGradient id="bar6" x1="0" y1="0" x2="0" y2="1"><stop offset="0.000" stop-color="#5cf020" stop-opacity="1"/><stop offset="0.562" stop-color="#5cf020" stop-opacity="1"/><stop offset="0.685" stop-color="#5cf020" stop-opacity="0.55"/><stop offset="0.783" stop-color="#5cf020" stop-opacity="0.22"/><stop offset="0.870" stop-color="#5cf020" stop-opacity="0"/><stop offset="1.000" stop-color="#5cf020" stop-opacity="0"/></linearGradient></defs>
<rect x="226.85" y="258.24" width="14.8" height="34.76" fill="#000"/>
<rect x="226.85" y="258.24" width="14.8" height="34.76" fill="url(#bar6)" stroke="#111" stroke-width="0.85"/>
<path d="M253 293.0V295.4" stroke="#222" stroke-width="0.9"/>
<defs><linearGradient id="bar7" x1="0" y1="0" x2="0" y2="1"><stop offset="0.000" stop-color="#2040f8" stop-opacity="1"/><stop offset="0.600" stop-color="#2040f8" stop-opacity="1"/><stop offset="0.752" stop-color="#2040f8" stop-opacity="0.55"/><stop offset="0.874" stop-color="#2040f8" stop-opacity="0.22"/><stop offset="0.980" stop-color="#2040f8" stop-opacity="0"/><stop offset="1.000" stop-color="#2040f8" stop-opacity="0"/></linearGradient></defs>
<rect x="245.6" y="283.97" width="14.8" height="9.03" fill="#000"/>
<rect x="245.6" y="283.97" width="14.8" height="9.03" fill="url(#bar7)" stroke="#111" stroke-width="0.85"/>
<path d="M271.75 293.0V295.4" stroke="#222" stroke-width="0.9"/>
<defs><linearGradient id="bar8" x1="0" y1="0" x2="0" y2="1"><stop offset="0.000" stop-color="#fa1018" stop-opacity="1"/><stop offset="0.600" stop-color="#fa1018" stop-opacity="1"/><stop offset="0.752" stop-color="#fa1018" stop-opacity="0.55"/><stop offset="0.874" stop-color="#fa1018" stop-opacity="0.22"/><stop offset="0.980" stop-color="#fa1018" stop-opacity="0"/><stop offset="1.000" stop-color="#fa1018" stop-opacity="0"/></linearGradient></defs>
<rect x="264.35" y="290.51" width="14.8" height="2.49" fill="#000"/>
<rect x="264.35" y="290.51" width="14.8" height="2.49" fill="url(#bar8)" stroke="#111" stroke-width="0.85"/>
<path d="M121.75 224.52V250.46M120.45 224.52H123.05M120.45 250.46H123.05" stroke="#444" stroke-width="0.9" fill="none"/>
<path d="M140.5 173.27V204.61M139.2 173.27H141.8M139.2 204.61H141.8" stroke="#444" stroke-width="0.9" fill="none"/>
<path d="M159.25 171.2V208.86M157.95 171.2H160.55M157.95 208.86H160.55" stroke="#444" stroke-width="0.9" fill="none"/>
<path d="M178 166.53V195.47M176.7 166.53H179.3M176.7 195.47H179.3" stroke="#444" stroke-width="0.9" fill="none"/>
<path d="M215.5 275.36V277.44M214.2 275.36H216.8M214.2 277.44H216.8" stroke="#444" stroke-width="0.9" fill="none"/>
<path d="M234.25 242.89V274.01M232.95 242.89H235.55M232.95 274.01H235.55" stroke="#444" stroke-width="0.9" fill="none"/>
<path d="M253 283.35V284.7M251.7 283.35H254.3M251.7 284.7H254.3" stroke="#444" stroke-width="0.9" fill="none"/>
<path d="M271.75 289.89V291.13M270.45 289.89H273.05M270.45 291.13H273.05" stroke="#444" stroke-width="0.9" fill="none"/>
<path d="M112.45 157.5V293.45H281" stroke="#111" stroke-width="1.1" fill="none"/>
<path d="M109.9 293H112.3" stroke="#222" stroke-width="0.9"/>
<text x="107.7" y="294.6" font-size="5.9" font-weight="bold" text-anchor="end" fill="#000" letter-spacing="-0.1">0.00</text>
<path d="M110.7 282.62H112.3" stroke="#222" stroke-width="0.9"/>
<path d="M109.9 272.25H112.3" stroke="#222" stroke-width="0.9"/>
<text x="107.7" y="273.85" font-size="5.9" font-weight="bold" text-anchor="end" fill="#000" letter-spacing="-0.1">0.02</text>
<path d="M110.7 261.88H112.3" stroke="#222" stroke-width="0.9"/>
<path d="M109.9 251.5H112.3" stroke="#222" stroke-width="0.9"/>
<text x="107.7" y="253.1" font-size="5.9" font-weight="bold" text-anchor="end" fill="#000" letter-spacing="-0.1">0.04</text>
<path d="M110.7 241.12H112.3" stroke="#222" stroke-width="0.9"/>
<path d="M109.9 230.75H112.3" stroke="#222" stroke-width="0.9"/>
<text x="107.7" y="232.35" font-size="5.9" font-weight="bold" text-anchor="end" fill="#000" letter-spacing="-0.1">0.06</text>
<path d="M110.7 220.38H112.3" stroke="#222" stroke-width="0.9"/>
<path d="M109.9 210H112.3" stroke="#222" stroke-width="0.9"/>
<text x="107.7" y="211.6" font-size="5.9" font-weight="bold" text-anchor="end" fill="#000" letter-spacing="-0.1">0.08</text>
<path d="M110.7 199.62H112.3" stroke="#222" stroke-width="0.9"/>
<path d="M109.9 189.25H112.3" stroke="#222" stroke-width="0.9"/>
<text x="107.7" y="190.85" font-size="5.9" font-weight="bold" text-anchor="end" fill="#000" letter-spacing="-0.1">0.10</text>
<path d="M110.7 178.88H112.3" stroke="#222" stroke-width="0.9"/>
<path d="M109.9 168.5H112.3" stroke="#222" stroke-width="0.9"/>
<text x="107.7" y="170.1" font-size="5.9" font-weight="bold" text-anchor="end" fill="#000" letter-spacing="-0.1">0.12</text>
<path d="M110.7 158.12H112.3" stroke="#222" stroke-width="0.9"/>
<text transform="translate(91.9,242.6) rotate(-90)" font-size="7.0" font-weight="bold">k<tspan font-size="4.0" dy="1.5">obs</tspan><tspan dy="-1.5"> (min</tspan><tspan font-size="4.2" dy="-2.4">-1</tspan><tspan dy="2.4">)</tspan></text>
<text transform="translate(72.9,172.0) scale(0.88,1)" font-size="12.9" font-weight="bold">c)</text>
<text x="150" y="307.5" font-size="7.2" font-weight="bold" text-anchor="middle">SiO<tspan font-size="4.6" dy="2.4">2</tspan><tspan dy="-2.4">@TiO</tspan><tspan font-size="4.6" dy="2.4">2</tspan></text>
<text x="238.3" y="307.5" font-size="7.2" font-weight="bold" text-anchor="middle">TiO<tspan font-size="4.6" dy="2.4">2</tspan></text>
<rect x="230.8" y="164.20000000000002" width="16" height="7.3" rx="0.8" fill="url(#lgw)" stroke="#111" stroke-width="1"/>
<text x="248.3" y="170.4" font-size="7.2" font-weight="normal" text-anchor="start" fill="#000" stroke="#000" stroke-width="0.12">Initial</text>
<rect x="230.8" y="172.9" width="16" height="6.7" rx="0.8" fill="url(#lgg)" stroke="#111" stroke-width="1"/>
<text x="248.3" y="178.5" font-size="7.2" font-weight="normal" text-anchor="start" fill="#000" stroke="#000" stroke-width="0.12">600°C</text>
<rect x="230.8" y="181.70000000000002" width="16" height="6.1" rx="0.8" fill="url(#lgbl)" stroke="#111" stroke-width="1"/>
<text x="248.3" y="186.7" font-size="7.2" font-weight="normal" text-anchor="start" fill="#000" stroke="#000" stroke-width="0.12">800°C</text>
<rect x="230.8" y="190.4" width="16" height="6.7" rx="0.8" fill="url(#lgr)" stroke="#111" stroke-width="1"/>
<text x="248.3" y="196" font-size="7.2" font-weight="normal" text-anchor="start" fill="#000" stroke="#000" stroke-width="0.12">1000°C</text>
</svg>
</body></html>
